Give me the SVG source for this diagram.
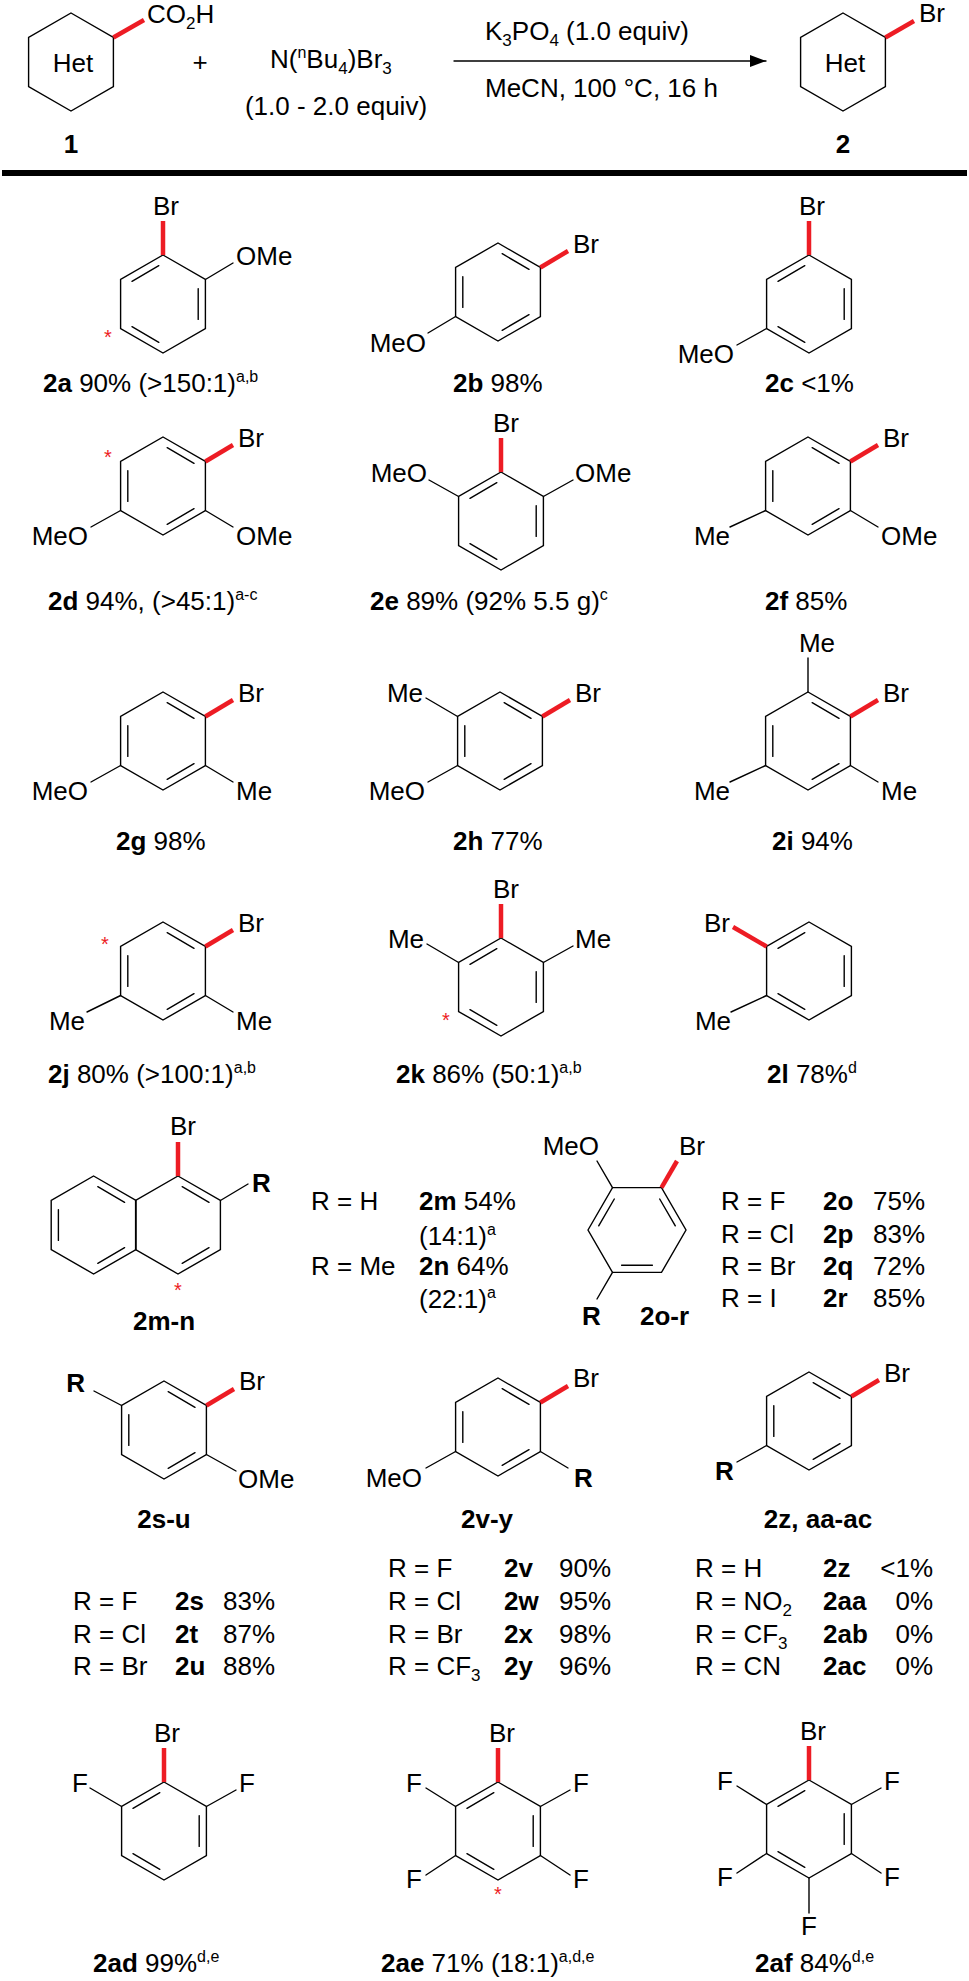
<svg xmlns="http://www.w3.org/2000/svg" xmlns:xlink="http://www.w3.org/1999/xlink" width="969" height="1981" viewBox="0 0 969 1981">
<style>
text{font-family:"Liberation Sans",Arial,sans-serif;font-size:26px;fill:#000}
.bd{font-weight:bold}
.m{text-anchor:middle}
.e{text-anchor:end}
.ast{fill:#ed1c24;font-size:20px;text-anchor:middle}
.b{stroke:#000;stroke-width:1.4;fill:none;stroke-linecap:round}
.r{stroke:#ed1c24;stroke-width:4.5;fill:none}
</style>
<defs>
<path id="hex" class="b" d="M0,-49 L42.4,-24.5 L42.4,24.5 L0,49 L-42.4,24.5 L-42.4,-24.5 Z"/>
<g id="ringA"><use href="#hex"/><path class="b" d="M-4.2,-38.3 L-31,-22.7 M35.2,-15.4 L35.2,15.4 M-4.2,38.3 L-31,22.7"/></g>
<g id="ringB"><use href="#hex"/><path class="b" d="M4.2,-38.3 L31,-22.7 M31,22.7 L4.2,38.3 M-35.2,15.4 L-35.2,-15.4"/></g>
<marker id="ah" markerWidth="16" markerHeight="12" refX="16" refY="6" orient="auto" markerUnits="userSpaceOnUse"><path d="M0,0 L16,6 L0,12 Z" fill="#000"/></marker>
</defs>

<g id="scheme">
<g id="sm1" transform="translate(71,62)"><use href="#hex"/><path class="r" d="M42.4,-24.5 L73,-42"/><text x="76" y="-39">CO<tspan dy="6" font-size="17">2</tspan><tspan dy="-6">H</tspan></text><text class="m" x="2" y="10">Het</text><text class="m bd" x="0" y="91">1</text></g>
<text class="m" x="200" y="71">+</text>
<text x="270" y="68">N(<tspan dy="-10" font-size="16">n</tspan><tspan dy="10">Bu</tspan><tspan dy="6" font-size="17">4</tspan><tspan dy="-6">)Br</tspan><tspan dy="6" font-size="17">3</tspan></text>
<text class="m" x="336" y="115">(1.0 - 2.0 equiv)</text>
<text x="485" y="40">K<tspan dy="6" font-size="17">3</tspan><tspan dy="-6">PO</tspan><tspan dy="6" font-size="17">4</tspan><tspan dy="-6"> (1.0 equiv)</tspan></text>
<text x="485" y="97">MeCN, 100 °C, 16 h</text>
<g id="sm2" transform="translate(843,62)"><use href="#hex"/><path class="r" d="M42.4,-24.5 L71,-41"/><text x="76" y="-40">Br</text><text class="m" x="2" y="10">Het</text><text class="m bd" x="0" y="91">2</text></g>
<rect x="2" y="170" width="965" height="6" fill="#000"/>
</g>
<g id="connectors"><line class="b" x1="454" y1="61" x2="766" y2="61" marker-end="url(#ah)"/></g>

<!-- row 1 -->
<g id="m2a" transform="translate(163,304)"><use href="#ringA"/><path class="r" d="M0,-49 L0,-83"/><text class="m" x="3" y="-89">Br</text><path class="b" d="M42.4,-24.5 L70,-41"/><text x="73" y="-39">OMe</text><text class="ast" x="-55" y="40">*</text></g>
<g id="m2b" transform="translate(498,292)"><use href="#ringB"/><path class="r" d="M42.4,-24.5 L70,-41"/><text x="75" y="-39">Br</text><path class="b" d="M-42.4,24.5 L-70,41"/><text class="e" x="-72" y="60">MeO</text></g>
<g id="m2c" transform="translate(809,304)"><use href="#ringA"/><path class="r" d="M0,-49 L0,-83"/><text class="m" x="3" y="-89">Br</text><path class="b" d="M-42.4,24.5 L-72,41"/><text class="e" x="-75" y="59">MeO</text></g>
<text x="43" y="392"><tspan class="bd">2a</tspan> 90% (&gt;150:1)<tspan dy="-10" font-size="16">a,b</tspan></text>
<text x="453" y="392"><tspan class="bd">2b</tspan> 98%</text>
<text x="765" y="392"><tspan class="bd">2c</tspan> &lt;1%</text>

<!-- row 2 -->
<g id="m2d" transform="translate(163,486)"><use href="#ringB"/><path class="r" d="M42.4,-24.5 L70,-41"/><text x="75" y="-39">Br</text><path class="b" d="M42.4,24.5 L70,41"/><text x="73" y="59">OMe</text><path class="b" d="M-42.4,24.5 L-72,41"/><text class="e" x="-75" y="59">MeO</text><text class="ast" x="-55" y="-22">*</text></g>
<g id="m2e" transform="translate(501,521)"><use href="#ringA"/><path class="r" d="M0,-49 L0,-83"/><text class="m" x="5" y="-89">Br</text><path class="b" d="M-42.4,-24.5 L-72,-41"/><text class="e" x="-74" y="-39">MeO</text><path class="b" d="M42.4,-24.5 L72,-41"/><text x="74" y="-39">OMe</text></g>
<g id="m2f" transform="translate(808,486)"><use href="#ringB"/><path class="r" d="M42.4,-24.5 L70,-41"/><text x="75" y="-39">Br</text><path class="b" d="M42.4,24.5 L70,41"/><text x="73" y="59">OMe</text><path class="b" d="M-42.4,24.5 L-78,41"/><text class="e" x="-78" y="59">Me</text></g>
<text x="48" y="610"><tspan class="bd">2d</tspan> 94%, (&gt;45:1)<tspan dy="-10" font-size="16">a-c</tspan></text>
<text x="370" y="610"><tspan class="bd">2e</tspan> 89% (92% 5.5 g)<tspan dy="-10" font-size="16">c</tspan></text>
<text x="765" y="610"><tspan class="bd">2f</tspan> 85%</text>

<!-- row 3 -->
<g id="m2g" transform="translate(163,741)"><use href="#ringB"/><path class="r" d="M42.4,-24.5 L70,-41"/><text x="75" y="-39">Br</text><path class="b" d="M42.4,24.5 L70,41"/><text x="73" y="59">Me</text><path class="b" d="M-42.4,24.5 L-72,41"/><text class="e" x="-75" y="59">MeO</text></g>
<g id="m2h" transform="translate(500,741)"><use href="#ringB"/><path class="r" d="M42.4,-24.5 L70,-41"/><text x="75" y="-39">Br</text><path class="b" d="M-42.4,-24.5 L-74,-43"/><text class="e" x="-77" y="-39">Me</text><path class="b" d="M-42.4,24.5 L-72,41"/><text class="e" x="-75" y="59">MeO</text></g>
<g id="m2i" transform="translate(808,741)"><use href="#ringB"/><path class="b" d="M0,-49 L0,-83"/><text class="m" x="9" y="-89">Me</text><path class="r" d="M42.4,-24.5 L70,-41"/><text x="75" y="-39">Br</text><path class="b" d="M42.4,24.5 L70,41"/><text x="73" y="59">Me</text><path class="b" d="M-42.4,24.5 L-78,41"/><text class="e" x="-78" y="59">Me</text></g>
<text x="116" y="850"><tspan class="bd">2g</tspan> 98%</text>
<text x="453" y="850"><tspan class="bd">2h</tspan> 77%</text>
<text x="772" y="850"><tspan class="bd">2i</tspan> 94%</text>

<!-- row 4 -->
<g id="m2j" transform="translate(163,971)"><use href="#ringB"/><path class="r" d="M42.4,-24.5 L70,-41"/><text x="75" y="-39">Br</text><path class="b" d="M42.4,24.5 L70,41"/><text x="73" y="59">Me</text><path class="b" d="M-42.4,24.5 L-76,41"/><text class="e" x="-78" y="59">Me</text><text class="ast" x="-58" y="-20">*</text></g>
<g id="m2k" transform="translate(501,987)"><use href="#ringA"/><path class="r" d="M0,-49 L0,-83"/><text class="m" x="5" y="-89">Br</text><path class="b" d="M-42.4,-24.5 L-74,-43"/><text class="e" x="-77" y="-39">Me</text><path class="b" d="M42.4,-24.5 L72,-41"/><text x="74" y="-39">Me</text><text class="ast" x="-55" y="40">*</text></g>
<g id="m2l" transform="translate(809,971)"><use href="#ringA"/><path class="r" d="M-42.4,-24.5 L-76,-44"/><text class="e" x="-79" y="-39">Br</text><path class="b" d="M-42.4,24.5 L-78,41"/><text class="e" x="-78" y="59">Me</text></g>
<text x="48" y="1083"><tspan class="bd">2j</tspan> 80% (&gt;100:1)<tspan dy="-10" font-size="16">a,b</tspan></text>
<text x="396" y="1083"><tspan class="bd">2k</tspan> 86% (50:1)<tspan dy="-10" font-size="16">a,b</tspan></text>
<text x="767" y="1083"><tspan class="bd">2l</tspan> 78%<tspan dy="-10" font-size="16">d</tspan></text>

<!-- row 5 -->
<g id="m2mn">
<use href="#ringB" transform="translate(93.6,1225)"/>
<g transform="translate(178,1225)"><use href="#hex"/><path class="b" d="M4.2,-38.3 L31,-22.7 M31,22.7 L4.2,38.3"/><path class="r" d="M0,-49 L0,-83"/><text class="m" x="5" y="-90">Br</text><path class="b" d="M42.4,-24.5 L70,-41"/><text class="bd" x="74" y="-33">R</text><text class="ast" x="0" y="72">*</text></g>
<text class="m bd" x="164" y="1330">2m-n</text>
</g>
<text x="311" y="1210">R = H</text>
<text x="419" y="1210"><tspan class="bd">2m</tspan> 54%</text>
<text x="419" y="1245">(14:1)<tspan dy="-10" font-size="16">a</tspan></text>
<text x="311" y="1275">R = Me</text>
<text x="419" y="1275"><tspan class="bd">2n</tspan> 64%</text>
<text x="419" y="1308">(22:1)<tspan dy="-10" font-size="16">a</tspan></text>

<g id="m2or" transform="translate(637,1230)">
<path class="b" d="M-49,0 L-24.5,-42.4 L24.5,-42.4 L49,0 L24.5,42.4 L-24.5,42.4 Z M-22.7,-31 L-38.3,-4.2 M22.7,-31 L38.3,-4.2 M-15.4,35.2 L15.4,35.2"/>
<path class="b" d="M-24.5,-42.4 L-40,-69"/><text class="e" x="-38" y="-75">MeO</text>
<path class="r" d="M24.5,-42.4 L40,-69"/><text x="42" y="-75">Br</text>
<path class="b" d="M-24.5,42.4 L-40,69"/><text class="bd" x="-55" y="95">R</text>
<text class="bd" x="3" y="95">2o-r</text>
</g>
<g id="t2o">
<text x="721" y="1210">R = F</text><text class="bd" x="823" y="1210">2o</text><text x="873" y="1210">75%</text>
<text x="721" y="1243">R = Cl</text><text class="bd" x="823" y="1243">2p</text><text x="873" y="1243">83%</text>
<text x="721" y="1275">R = Br</text><text class="bd" x="823" y="1275">2q</text><text x="873" y="1275">72%</text>
<text x="721" y="1307">R = I</text><text class="bd" x="823" y="1307">2r</text><text x="873" y="1307">85%</text>
</g>

<!-- row 6 -->
<g id="m2su" transform="translate(164,1430)"><use href="#ringB"/><path class="r" d="M42.4,-24.5 L70,-41"/><text x="75" y="-40">Br</text><path class="b" d="M42.4,24.5 L72,41"/><text x="74" y="58">OMe</text><path class="b" d="M-42.4,-24.5 L-70,-39"/><text class="bd e" x="-79" y="-38">R</text></g>
<g id="m2vy" transform="translate(498,1427)"><use href="#ringB"/><path class="r" d="M42.4,-24.5 L70,-41"/><text x="75" y="-40">Br</text><path class="b" d="M42.4,24.5 L70,41"/><text class="bd" x="76" y="60">R</text><path class="b" d="M-42.4,24.5 L-72,41"/><text class="e" x="-76" y="60">MeO</text></g>
<g id="m2z" transform="translate(809,1421)"><use href="#ringB"/><path class="r" d="M42.4,-24.5 L70,-41"/><text x="75" y="-39">Br</text><path class="b" d="M-42.4,24.5 L-72,41"/><text class="bd" x="-94" y="59">R</text></g>
<text class="m bd" x="164" y="1528">2s-u</text>
<text class="m bd" x="487" y="1528">2v-y</text>
<text class="m bd" x="818" y="1528">2z, aa-ac</text>

<g id="t2s">
<text x="73" y="1610">R = F</text><text class="bd" x="175" y="1610">2s</text><text x="223" y="1610">83%</text>
<text x="73" y="1643">R = Cl</text><text class="bd" x="175" y="1643">2t</text><text x="223" y="1643">87%</text>
<text x="73" y="1675">R = Br</text><text class="bd" x="175" y="1675">2u</text><text x="223" y="1675">88%</text>
</g>
<g id="t2v">
<text x="388" y="1577">R = F</text><text class="bd" x="504" y="1577">2v</text><text x="559" y="1577">90%</text>
<text x="388" y="1610">R = Cl</text><text class="bd" x="504" y="1610">2w</text><text x="559" y="1610">95%</text>
<text x="388" y="1643">R = Br</text><text class="bd" x="504" y="1643">2x</text><text x="559" y="1643">98%</text>
<text x="388" y="1675">R = CF<tspan dy="6" font-size="17">3</tspan></text><text class="bd" x="504" y="1675">2y</text><text x="559" y="1675">96%</text>
</g>
<g id="t2z">
<text x="695" y="1577">R = H</text><text class="bd" x="823" y="1577">2z</text><text class="e" x="933" y="1577">&lt;1%</text>
<text x="695" y="1610">R = NO<tspan dy="6" font-size="17">2</tspan></text><text class="bd" x="823" y="1610">2aa</text><text class="e" x="933" y="1610">0%</text>
<text x="695" y="1643">R = CF<tspan dy="6" font-size="17">3</tspan></text><text class="bd" x="823" y="1643">2ab</text><text class="e" x="933" y="1643">0%</text>
<text x="695" y="1675">R = CN</text><text class="bd" x="823" y="1675">2ac</text><text class="e" x="933" y="1675">0%</text>
</g>

<!-- row 7 -->
<g id="m2ad" transform="translate(164,1831)"><use href="#ringA"/><path class="r" d="M0,-49 L0,-83"/><text class="m" x="3" y="-89">Br</text><path class="b" d="M-42.4,-24.5 L-74,-43"/><text class="e" x="-76" y="-39">F</text><path class="b" d="M42.4,-24.5 L72,-41"/><text x="75" y="-39">F</text></g>
<g id="m2ae" transform="translate(498,1831)"><use href="#ringA"/><path class="r" d="M0,-49 L0,-83"/><text class="m" x="4" y="-89">Br</text><path class="b" d="M-42.4,-24.5 L-72,-43"/><text class="e" x="-76" y="-39">F</text><path class="b" d="M42.4,-24.5 L72,-41"/><text x="75" y="-39">F</text><path class="b" d="M-42.4,24.5 L-72,44"/><text class="e" x="-76" y="57">F</text><path class="b" d="M42.4,24.5 L72,44"/><text x="75" y="57">F</text><text class="ast" x="0" y="70">*</text></g>
<g id="m2af" transform="translate(809,1829)"><use href="#ringA"/><path class="r" d="M0,-49 L0,-83"/><text class="m" x="4" y="-89">Br</text><path class="b" d="M-42.4,-24.5 L-72,-43"/><text class="e" x="-76" y="-39">F</text><path class="b" d="M42.4,-24.5 L72,-41"/><text x="75" y="-39">F</text><path class="b" d="M-42.4,24.5 L-72,44"/><text class="e" x="-76" y="57">F</text><path class="b" d="M42.4,24.5 L72,44"/><text x="75" y="57">F</text><path class="b" d="M0,49 L0,84"/><text class="m" x="0" y="106">F</text></g>
<text x="93" y="1972"><tspan class="bd">2ad</tspan> 99%<tspan dy="-10" font-size="16">d,e</tspan></text>
<text x="381" y="1972"><tspan class="bd">2ae</tspan> 71% (18:1)<tspan dy="-10" font-size="16">a,d,e</tspan></text>
<text x="755" y="1972"><tspan class="bd">2af</tspan> 84%<tspan dy="-10" font-size="16">d,e</tspan></text>
</svg>
